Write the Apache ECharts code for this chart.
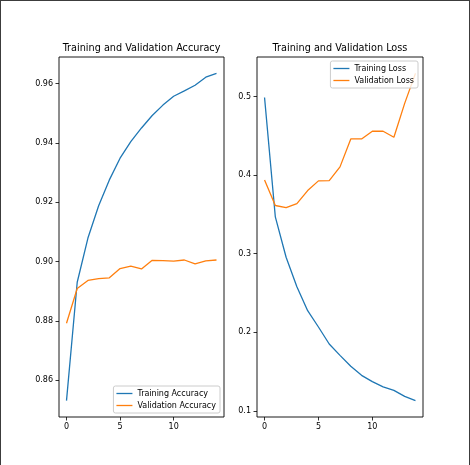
<!DOCTYPE html>
<html>
<head>
<meta charset="utf-8">
<script src="https://cdn.jsdelivr.net/npm/echarts@6/dist/echarts.min.js"></script>
<style>
  html, body { margin: 0; padding: 0; background: #fff; }
  #frame { position: absolute; left: 0; top: 0; width: 468px; height: 465px;
           border-left: 1px solid #3c3c3c; border-top: 1px solid #3c3c3c; border-right: 1px solid #3c3c3c; pointer-events: none; }
  #main { width: 470px; height: 465px; }
</style>
</head>
<body>
<div id="main"></div>
<div id="frame"></div>
<script>
// epochs 0..14
var epochs = [0, 1, 2, 3, 4, 5, 6, 7, 8, 9, 10, 11, 12, 13, 14]
var trainAcc = [0.8531, 0.8930, 0.9079, 0.9188, 0.9275, 0.9348, 0.9404, 0.9450, 0.9492, 0.9527, 0.9557, 0.9575, 0.9594, 0.9621, 0.9634]
var valAcc = [0.8792, 0.8909, 0.8936, 0.8942, 0.8945, 0.8976, 0.8984, 0.8975, 0.9004, 0.9003, 0.9001, 0.9005, 0.8992, 0.9002, 0.9005]
var trainLoss = [0.4990, 0.3470, 0.2955, 0.2580, 0.2274, 0.2067, 0.1850, 0.1706, 0.1566, 0.1451, 0.1371, 0.1304, 0.1260, 0.1184, 0.1129]
var valLoss = [0.3940, 0.3614, 0.3588, 0.3639, 0.3804, 0.3928, 0.3932, 0.4106, 0.4462, 0.4462, 0.4560, 0.4560, 0.4484, 0.4915, 0.5297]
var xTicks = [0, 5, 10]
var accTicks = [0.86, 0.88, 0.90, 0.92, 0.94, 0.96]
var lossTicks = [0.1, 0.2, 0.3, 0.4, 0.5]

var font = 'DejaVu Sans'
var blue = '#1f77b4', orange = '#ff7f0e'

function pairs(ys) { return epochs.map(function (e, i) { return [e, ys[i]] }) }
// matplotlib style 5% margins
function lim(arrs) {
  var all = [].concat.apply([], arrs)
  var lo = Math.min.apply(null, all), hi = Math.max.apply(null, all), m = (hi - lo) * 0.05
  return [lo - m, hi + m]
}
var accLim = lim([trainAcc, valAcc]), lossLim = lim([trainLoss, valLoss])

function xAx(g) {
  return {
    type: 'value', gridIndex: g, min: -0.7, max: 14.7,
    axisLine: { show: false, onZero: false }, splitLine: { show: false },
    axisTick: { show: true, customValues: xTicks, length: 3.5, lineStyle: { color: '#000', width: 0.8 } },
    axisLabel: { customValues: xTicks, margin: 5.5, fontSize: 8, color: '#000', fontFamily: font }
  }
}
function yAx(g, l, ticks, dec) {
  return {
    type: 'value', gridIndex: g, min: l[0], max: l[1],
    axisLine: { show: false, onZero: false }, splitLine: { show: false },
    axisTick: { show: true, customValues: ticks, length: 3.5, lineStyle: { color: '#000', width: 0.8 } },
    axisLabel: { customValues: ticks, margin: 6, fontSize: 8, color: '#000', fontFamily: font,
      formatter: function (v) { return v.toFixed(dec) } }
  }
}
function legend(names, pos) {
  return Object.assign({
    data: names, orient: 'vertical', icon: 'rect', itemWidth: 16, itemHeight: 1.3, itemGap: 3,
    padding: [3, 4, 3, 3], backgroundColor: 'rgba(255,255,255,0.8)', borderColor: '#cccccc', borderWidth: 1, borderRadius: 2,
    textStyle: { fontSize: 8, lineHeight: 9, color: '#000', fontFamily: font }
  }, pos)
}
function line(name, ys, color, xi) {
  return { name: name, type: 'line', xAxisIndex: xi, yAxisIndex: xi, data: pairs(ys), showSymbol: false,
    lineStyle: { color: color, width: 1.3 }, itemStyle: { color: color } }
}

var chart = echarts.init(document.getElementById('main'))
chart.setOption({
  animation: false,
  textStyle: { fontFamily: font },
  title: [
    { text: 'Training and Validation Accuracy', left: 141.5, textAlign: 'center', top: 43.5, padding: 0,
      textStyle: { fontSize: 9.7, fontWeight: 'normal', color: '#000', fontFamily: font } },
    { text: 'Training and Validation Loss', left: 340, textAlign: 'center', top: 43.5, padding: 0,
      textStyle: { fontSize: 9.7, fontWeight: 'normal', color: '#000', fontFamily: font } }
  ],
  legend: [
    legend(['Training Accuracy', 'Validation Accuracy'], { right: 250, bottom: 52 }),
    legend(['Training Loss', 'Validation Loss'], { right: 52, top: 61 })
  ],
  grid: [
    { left: 59, top: 57, width: 165, height: 360, show: true, borderColor: '#000', borderWidth: 0.9 },
    { left: 257, top: 57, width: 166, height: 360, show: true, borderColor: '#000', borderWidth: 0.9 }
  ],
  xAxis: [xAx(0), xAx(1)],
  yAxis: [yAx(0, accLim, accTicks, 2), yAx(1, lossLim, lossTicks, 1)],
  series: [
    line('Training Accuracy', trainAcc, blue, 0),
    line('Validation Accuracy', valAcc, orange, 0),
    line('Training Loss', trainLoss, blue, 1),
    line('Validation Loss', valLoss, orange, 1)
  ]
})
</script>
</body>
</html>
